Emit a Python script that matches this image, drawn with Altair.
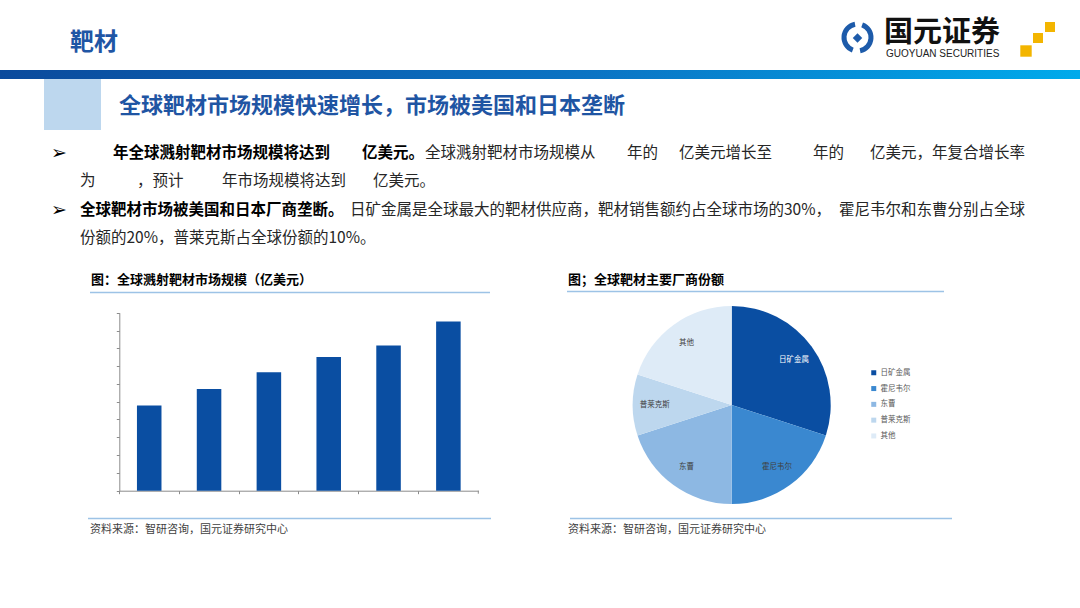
import altair as alt
import pandas as pd

# ---------------- data ----------------
bar_periods = ["P1", "P2", "P3", "P4", "P5", "P6"]          # axis labels are hidden in the source
bar_values = [4.78, 5.71, 6.65, 7.51, 8.16, 9.51]            # (axis 0-10, unlabeled)
y_ticks = [0, 1, 2, 3, 4, 5, 6, 7, 8, 9, 10]

pie_makers = ["日矿金属", "霍尼韦尔", "东曹", "普莱克斯", "其他"]
pie_shares = [30, 20, 20, 10, 20]
pie_colors = ["#0A4EA2", "#3A88D0", "#8DB8E3", "#BDD7EE", "#DEEBF7"]

CJK = "Noto Sans CJK SC"
BLUE = "#0A4EA2"

bar_df = pd.DataFrame({"period": bar_periods, "value": bar_values})
pie_df = pd.DataFrame({"maker": pie_makers, "share": pie_shares,
                       "idx": list(range(len(pie_makers)))})
one = pd.DataFrame({"d": [0]})


def txt(s, x, y, size, color="#000000", weight="normal", align="left",
        font=CJK, baseline="middle"):
    return alt.Chart(one).mark_text(
        text=s, fontSize=size, color=color, fontWeight=weight, align=align,
        baseline=baseline, font=font
    ).encode(x=alt.value(x), y=alt.value(y))


def rect(x1, x2, y1, y2, color):
    return alt.Chart(one).mark_rect(color=color).encode(
        x=alt.value(x1), x2=alt.value(x2), y=alt.value(y1), y2=alt.value(y2))


def hline(x1, x2, y, color, w=1.5):
    return alt.Chart(one).mark_rule(color=color, strokeWidth=w).encode(
        x=alt.value(x1), x2=alt.value(x2), y=alt.value(y))


layers = []

# ---------------- header ----------------
layers.append(txt("靶材", 70, 43, 24, "#1F56A5", "bold"))
grad = {"gradient": "linear", "x1": 0, "x2": 1, "y1": 0, "y2": 0,
        "stops": [{"offset": 0, "color": "#0B4A9C"},
                  {"offset": 0.55, "color": "#0B74C4"},
                  {"offset": 1, "color": "#00AAEB"}]}
layers.append(alt.Chart(one).mark_rect(color=grad).encode(
    x=alt.value(0), x2=alt.value(1080), y=alt.value(70), y2=alt.value(79)))

# logo
layers.append(alt.Chart(one).mark_arc(theta=0.35, theta2=2.95, radius=16, radius2=11,
                                      color="#1D5BAA").encode(x=alt.value(857.5), y=alt.value(37.5)))
layers.append(alt.Chart(one).mark_arc(theta=3.5, theta2=6.1, radius=16, radius2=11,
                                      color="#1D5BAA").encode(x=alt.value(857.5), y=alt.value(37.5)))
layers.append(alt.Chart(one).mark_point(shape="diamond", filled=True, size=90, color="#1D5BAA",
                                        opacity=1).encode(x=alt.value(857.5), y=alt.value(38)))
layers.append(txt("国元证券", 884, 32.5, 29, "#111111", "bold"))
layers.append(txt("GUOYUAN SECURITIES", 886, 53.5, 10, "#222222", "normal",
                  font="Liberation Sans"))
for cx, cy, sz in [(1026, 51, 130), (1038, 38, 100), (1050, 27, 100)]:
    layers.append(alt.Chart(one).mark_square(size=sz, color="#F3B500", opacity=1).encode(
        x=alt.value(cx), y=alt.value(cy)))

# title band
layers.append(rect(44, 101, 79, 130, "#BDD7EE"))
layers.append(txt("全球靶材市场规模快速增长，市场被美国和日本垄断", 119, 106, 22, "#1F55A3", "bold"))

# ---------------- bullet text ----------------
FS = 15.5
layers.append(txt("➢", 51, 153, 19, "#000000", font="DejaVu Sans"))
layers.append(txt("➢", 51, 210, 19, "#000000", font="DejaVu Sans"))
segments = [
    ("年全球溅射靶材市场规模将达到", 113, 153, "bold", "left"),
    ("亿美元。", 362, 153, "bold", "left"),
    ("全球溅射靶材市场规模从", 425, 153, "normal", "left"),
    ("年的", 627, 153, "normal", "left"),
    ("亿美元增长至", 679, 153, "normal", "left"),
    ("年的", 813, 153, "normal", "left"),
    ("亿美元，年复合增长率", 1025, 153, "normal", "right"),
    ("为", 80, 181, "normal", "left"),
    ("，预计", 137, 181, "normal", "left"),
    ("年市场规模将达到", 222, 181, "normal", "left"),
    ("亿美元。", 373, 181, "normal", "left"),
    ("全球靶材市场被美国和日本厂商垄断。", 80, 210, "bold", "left"),
    ("日矿金属是全球最大的靶材供应商，靶材销售额约占全球市场的30%，", 350, 210, "normal", "left"),
    ("霍尼韦尔和东曹分别占全球", 1025, 210, "normal", "right"),
    ("份额的20%，普莱克斯占全球份额的10%。", 80, 238, "normal", "left"),
]
for s, x, y, w, a in segments:
    layers.append(txt(s, x, y, FS, "#000000" if w == "bold" else "#262626", w, a))

# ---------------- chart captions / rules ----------------
layers.append(txt("图：全球溅射靶材市场规模（亿美元）", 91, 280, 13, "#000000", "bold"))
layers.append(txt("图；全球靶材主要厂商份额", 568, 280, 13, "#000000", "bold"))
layers.append(hline(90, 490, 292.5, "#9DC3E6"))
layers.append(hline(567, 944, 291.5, "#9DC3E6"))
layers.append(hline(88, 491, 518.5, "#9DC3E6"))
layers.append(hline(570, 952, 518.5, "#9DC3E6"))
layers.append(txt("资料来源：智研咨询，国元证券研究中心", 90, 530, 11, "#3F3F3F"))
layers.append(txt("资料来源：智研咨询，国元证券研究中心", 568, 530, 11, "#3F3F3F"))

# ---------------- bar chart ----------------
AX = "#8C8C8C"
bars = alt.Chart(bar_df).mark_bar(color=BLUE).encode(
    x=alt.X("period:N", sort=bar_periods,
            scale=alt.Scale(range=[119.3, 478.3], paddingInner=0.59, paddingOuter=0.295),
            axis=alt.Axis(title=None, labels=False, ticks=True, tickSize=3,
                          bandPosition=-0.716, domainColor=AX, tickColor=AX,
                          grid=False, offset=-117.3)),
    y=alt.Y("value:Q",
            scale=alt.Scale(domain=[0, 10], range=[490.7, 312.7], nice=False, zero=True),
            axis=alt.Axis(title=None, labels=False, values=y_ticks, tickSize=3,
                          domainColor=AX, tickColor=AX, grid=False, offset=-119.3)),
)
layers.append(bars)
# closing tick at right end of x axis
layers.append(alt.Chart(one).mark_rule(color=AX, strokeWidth=1).encode(
    x=alt.value(478.3), y=alt.value(490.7), y2=alt.value(493.7)))

# ---------------- pie chart ----------------
pie_base = alt.Chart(pie_df).encode(
    theta=alt.Theta("share:Q", stack=True),
    order=alt.Order("idx:Q"),
)
pie = pie_base.mark_arc(radius=99).encode(
    color=alt.Color("maker:N", sort=pie_makers,
                    scale=alt.Scale(domain=pie_makers, range=pie_colors),
                    legend=alt.Legend(title=None, orient="none", legendX=870, legendY=369,
                                      symbolType="square", symbolSize=25, symbolStrokeWidth=0,
                                      labelFontSize=7.5, labelColor="#595959", labelFont=CJK,
                                      labelOffset=3, rowPadding=6.8)),
    x=alt.value(731.7), y=alt.value(405),
)
pie_labels = pie_base.mark_text(radius=77, fontSize=7.5, font=CJK).encode(
    text="maker:N",
    color=alt.condition(alt.datum.maker == "日矿金属", alt.value("#FFFFFF"), alt.value("#404040")),
    x=alt.value(731.7), y=alt.value(405),
)
layers.append(pie)
layers.append(pie_labels)

chart = alt.layer(*layers).properties(
    width=1080, height=608, autosize=alt.AutoSizeParams(type="none"), padding=0,
    background="#FFFFFF"
).configure_view(stroke=None)

chart.save("out.html", embed_options={"renderer": "svg", "actions": False})
